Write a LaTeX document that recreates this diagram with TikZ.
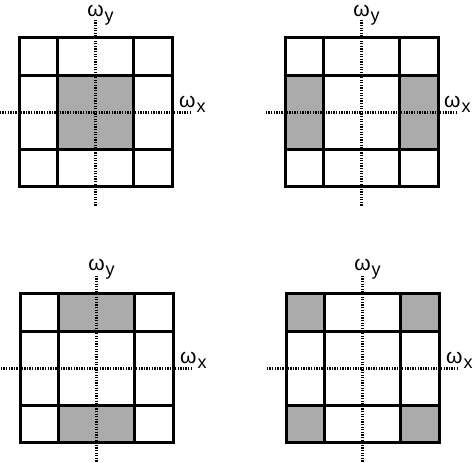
\documentclass[tikz,border=0pt]{standalone}
\usepackage{fontspec}
\setmainfont{Liberation Sans}
\usepackage{tikz}

\newcommand{\wlab}[1]{{\fontsize{21}{21}\selectfont ω}\rlap{\kern1pt\raisebox{-5pt}{\fontsize{18}{18}\selectfont #1}}}

\tikzset{
    gridline/.style={line width=3pt, line cap=rect},
    axisline/.style={line width=2.4pt, dash pattern=on 1.3pt off 1.3pt},
    cellfill/.style={fill=black!33},
    wlabel/.style={inner sep=0pt}
}

\begin{document}
\begin{tikzpicture}[x=1pt, y=1pt]
    \useasboundingbox (0,0) rectangle (474,463);

    % top left: centre block
    \begin{scope}[shift={(19,276)}, x=38.25pt, y=37.25pt]
        \fill[cellfill] (1,1) rectangle (3,3);
        \coordinate (ytopA) at (2,4.5);
        \coordinate (ybotA) at (2,-0.5);
        \coordinate (xlftA) at (-0.5,2);
        \coordinate (xrgtA) at (4.5,2);
        \draw[axisline] (ybotA) -- (ytopA);
        \draw[axisline] (xlftA) -- (xrgtA);
        \draw[gridline] (0,0) rectangle (4,4);
        \draw[gridline] (1,0) -- (1,4) (3,0) -- (3,4);
        \draw[gridline] (0,1) -- (4,1) (0,3) -- (4,3);
        \node[wlabel, anchor=base] (wyA) at ([yshift=3pt]ytopA) {\wlab{y}};
        \node[wlabel, anchor=base west] (wxA) at ([xshift=7pt,yshift=5pt]4,2) {\wlab{x}};
    \end{scope}

    % top right: left and right blocks
    \begin{scope}[shift={(285,276)}, x=38.25pt, y=37.25pt]
        \fill[cellfill] (0,1) rectangle (1,3);
        \fill[cellfill] (3,1) rectangle (4,3);
        \coordinate (ytopB) at (2,4.5);
        \coordinate (ybotB) at (2,-0.5);
        \coordinate (xlftB) at (-0.5,2);
        \coordinate (xrgtB) at (4.5,2);
        \draw[axisline] (ybotB) -- (ytopB);
        \draw[axisline] (xlftB) -- (xrgtB);
        \draw[gridline] (0,0) rectangle (4,4);
        \draw[gridline] (1,0) -- (1,4) (3,0) -- (3,4);
        \draw[gridline] (0,1) -- (4,1) (0,3) -- (4,3);
        \node[wlabel, anchor=base] (wyB) at ([yshift=3pt]ytopB) {\wlab{y}};
        \node[wlabel, anchor=base west] (wxB) at ([xshift=6pt,yshift=5pt]4,2) {\wlab{x}};
    \end{scope}

    % bottom left: top and bottom blocks
    \begin{scope}[shift={(20,20)}, x=38.25pt, y=37.25pt]
        \fill[cellfill] (1,3) rectangle (3,4);
        \fill[cellfill] (1,0) rectangle (3,1);
        \coordinate (ytopC) at (2,4.5);
        \coordinate (ybotC) at (2,-0.5);
        \coordinate (xlftC) at (-0.5,2);
        \coordinate (xrgtC) at (4.5,2);
        \draw[axisline] (ybotC) -- (ytopC);
        \draw[axisline] (xlftC) -- (xrgtC);
        \draw[gridline] (0,0) rectangle (4,4);
        \draw[gridline] (1,0) -- (1,4) (3,0) -- (3,4);
        \draw[gridline] (0,1) -- (4,1) (0,3) -- (4,3);
        \node[wlabel, anchor=base] (wyC) at ([yshift=5pt]ytopC) {\wlab{y}};
        \node[wlabel, anchor=base west] (wxC) at ([xshift=7pt,yshift=5pt]4,2) {\wlab{x}};
    \end{scope}

    % bottom right: corner cells
    \begin{scope}[shift={(286,20)}, x=38.25pt, y=37.25pt]
        \fill[cellfill] (0,0) rectangle (1,1);
        \fill[cellfill] (3,0) rectangle (4,1);
        \fill[cellfill] (0,3) rectangle (1,4);
        \fill[cellfill] (3,3) rectangle (4,4);
        \coordinate (ytopD) at (2,4.5);
        \coordinate (ybotD) at (2,-0.5);
        \coordinate (xlftD) at (-0.5,2);
        \coordinate (xrgtD) at (4.5,2);
        \draw[axisline] (ybotD) -- (ytopD);
        \draw[axisline] (xlftD) -- (xrgtD);
        \draw[gridline] (0,0) rectangle (4,4);
        \draw[gridline] (1,0) -- (1,4) (3,0) -- (3,4);
        \draw[gridline] (0,1) -- (4,1) (0,3) -- (4,3);
        \node[wlabel, anchor=base] (wyD) at ([yshift=5pt]ytopD) {\wlab{y}};
        \node[wlabel, anchor=base west] (wxD) at ([xshift=7pt,yshift=5pt]4,2) {\wlab{x}};
    \end{scope}
\end{tikzpicture}
\end{document}
